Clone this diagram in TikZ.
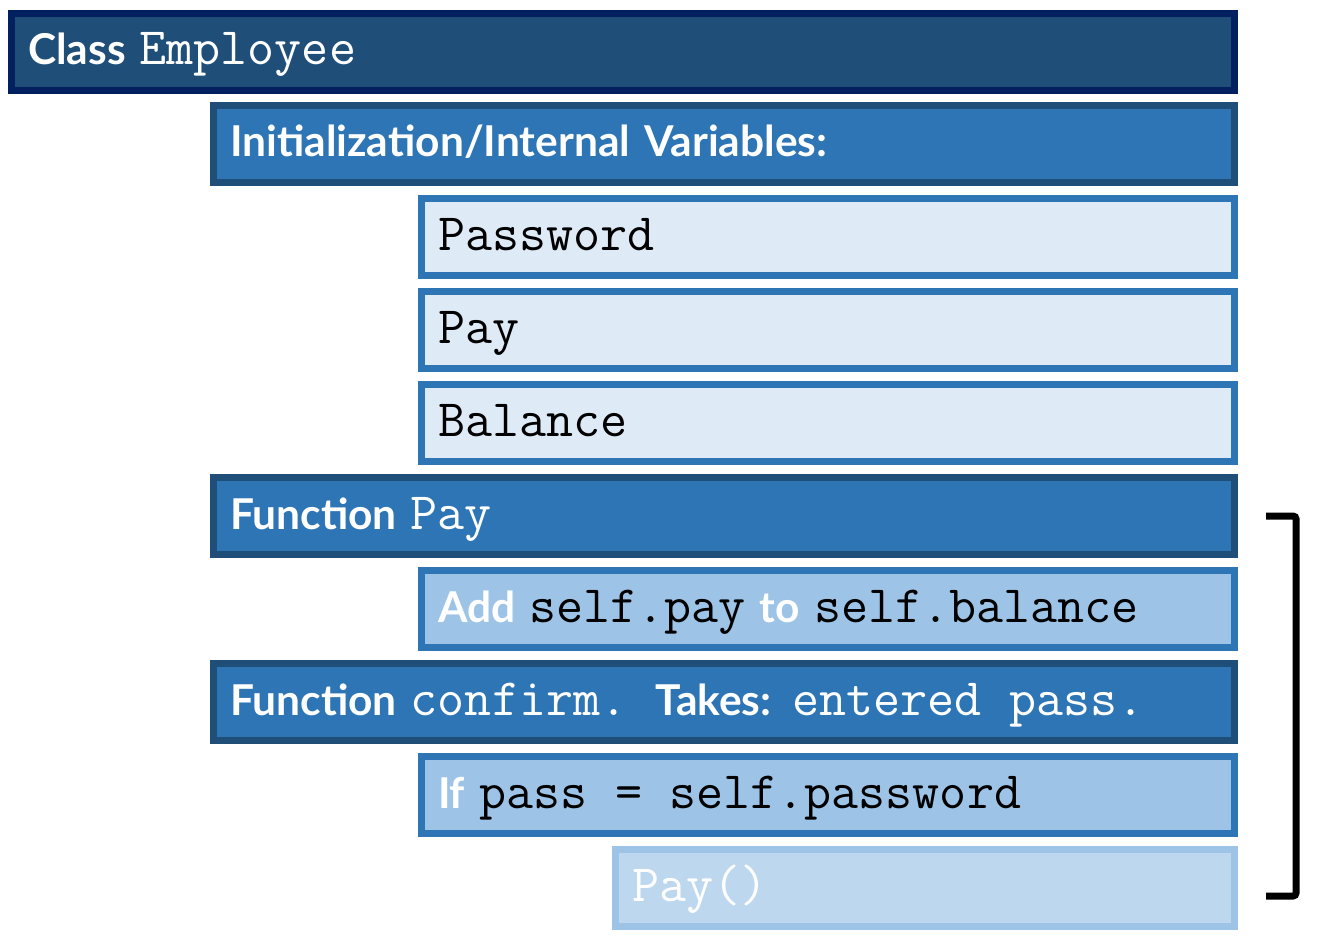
\documentclass[tikz,border=0pt]{standalone}
\usepackage{fontspec}
\setmainfont{Lato}
\usepackage{xcolor}
\usetikzlibrary{positioning}

\definecolor{navy}{HTML}{002060}
\definecolor{deepblue}{HTML}{1F4E79}
\definecolor{midblue}{HTML}{2E75B6}
\definecolor{iceblue}{HTML}{DEEBF7}
\definecolor{skyblue}{HTML}{9DC3E6}
\definecolor{paleblue}{HTML}{BDD7EE}

\newcommand{\code}[1]{{\ttfamily\mdseries\fontsize{52.5}{57}\selectfont\spaceskip=0.525em\relax #1}}

\begin{document}
\begin{tikzpicture}[x=1pt,y=-1pt]
\tikzset{
    blk/.style={draw, rectangle, line width=7pt, outer sep=0pt,
        inner xsep=16.5pt, inner ysep=0pt, align=left,
        text height=51.5pt, text depth=25.5pt,
        font=\bfseries\fontsize{42.5}{46}\selectfont},
    lvl0/.style={blk, draw=navy, fill=deepblue, text=white, text width=1190pt},
    lvl1/.style={blk, draw=deepblue, fill=midblue, text=white, text width=988pt},
    lvl2/.style={blk, draw=midblue, fill=iceblue, text=black, text width=780pt},
    stmt/.style={blk, draw=midblue, fill=skyblue, text=white, text width=780pt},
    call/.style={blk, draw=skyblue, fill=paleblue, text=white, text width=586pt},
    brk/.style={draw=black, line width=7pt, rounded corners=3pt}
}
\useasboundingbox (0,0) rectangle (1320,939);

\node[lvl0, anchor=north east] (cls) at (1234.5,13.5) {Class \code{Employee}};
\node[lvl1, below=15pt of cls.south east, anchor=north east] (init) {Initialization/Internal Variables:};
\node[lvl2, below=16pt of init.south east, anchor=north east] (vpass) {\code{Password}};
\node[lvl2, below=16pt of vpass.south east, anchor=north east] (vpay) {\code{Pay}};
\node[lvl2, below=16pt of vpay.south east, anchor=north east] (vbal) {\code{Balance}};
\node[lvl1, below=16pt of vbal.south east, anchor=north east] (fpay) {Function \code{Pay}};
\node[stmt, below=16pt of fpay.south east, anchor=north east] (addpay)
    {Add \textcolor{black}{\code{self.pay}} to \textcolor{black}{\code{self.balance}}};
\node[lvl1, below=16pt of addpay.south east, anchor=north east] (fconf)
    {Function \code{confirm.}\hspace{28pt}Takes: \code{entered pass.}};
\node[stmt, below=16pt of fconf.south east, anchor=north east] (ifpass)
    {If \textcolor{black}{\code{pass = self.password}}};
\node[call, below=16pt of ifpass.south east, anchor=north east] (callpay) {\code{Pay()}};

% bracket round the pay functions
\coordinate (btop) at ([xshift=31.5pt]fpay.east);
\coordinate (bbot) at ([xshift=31.5pt,yshift=-8pt]callpay.east);
\draw[brk] (btop) -- ++(30,0) |- (bbot);

\end{tikzpicture}
\end{document}
